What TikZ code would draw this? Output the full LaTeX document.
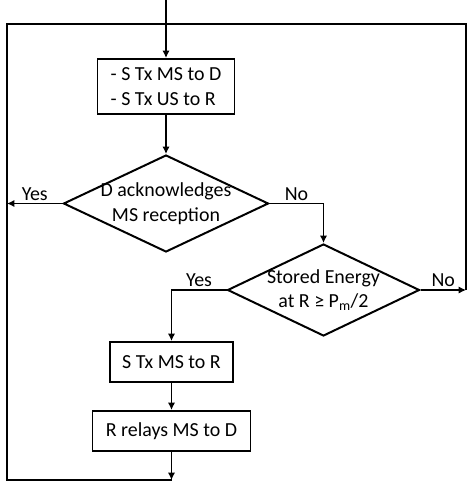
\documentclass[tikz,border=0pt]{standalone}
\usepackage{fontspec}
\setmainfont{Carlito}
\usetikzlibrary{arrows.meta,shapes.geometric}
\tikzset{
  blk/.style={draw,line width=1.7pt,minimum height=12mm,inner sep=0pt},
  dia/.style={diamond,draw,line width=1.7pt,inner sep=0pt},
  arr/.style={line width=1.7pt,-{Latex[length=2.2mm,width=2.2mm]}},
  lbl/.style={above,inner sep=2pt}
}
\begin{document}
\begin{tikzpicture}[x=0.3mm,y=-0.3mm,font=\fontsize{17}{21}\selectfont]
\useasboundingbox (0,0) rectangle (474,488);
\coordinate (top) at (166,0);
\node[blk,minimum width=41.1mm,minimum height=16.5mm,align=left] (b1) at (166,86.5) {- S Tx MS to D\\- S Tx US to R};
\node[dia,minimum width=61.5mm,minimum height=29.1mm,label={[align=center]center:D acknowledges\\MS reception}] (d1) at (166,203.5) {};
\node[dia,minimum width=57.6mm,minimum height=27.6mm,label={[align=center]center:Stored Energy\\at R ≥ P\textsubscript{m}/2}] (d2) at (323.5,290) {};
\node[blk,minimum width=36.9mm] (b2) at (171.5,362) {S Tx MS to R};
\node[blk,minimum width=47.4mm] (b3) at (171.5,431) {R relays MS to D};
\coordinate (bot) at (171.5,480);
\coordinate (bl) at (7,480);
\coordinate (tl) at (7,24);
\coordinate (tr) at (466,24);
% main flow
\draw[arr] (top) -- (b1);
\draw[arr] (b1) -- (d1);
\draw[arr] (d1.west) -- (d1.west -| tl) node[midway,lbl]{Yes};
\draw[arr] (d1.east) -| (d2.north) node[pos=.25,lbl]{No};
\draw[arr] (d2.west) -| (b2.north) node[pos=.25,lbl]{Yes};
\draw[arr] (d2.east) -- (d2.east -| tr) node[midway,lbl]{No};
\draw[arr] (b2) -- (b3);
\draw[arr] (b3) -- (bot);
% loop back
\draw[line width=1.7pt,line join=miter] (bot) -- (bl) -- (tl) -- (tr) -- (tr |- d2.east);
\end{tikzpicture}
\end{document}
